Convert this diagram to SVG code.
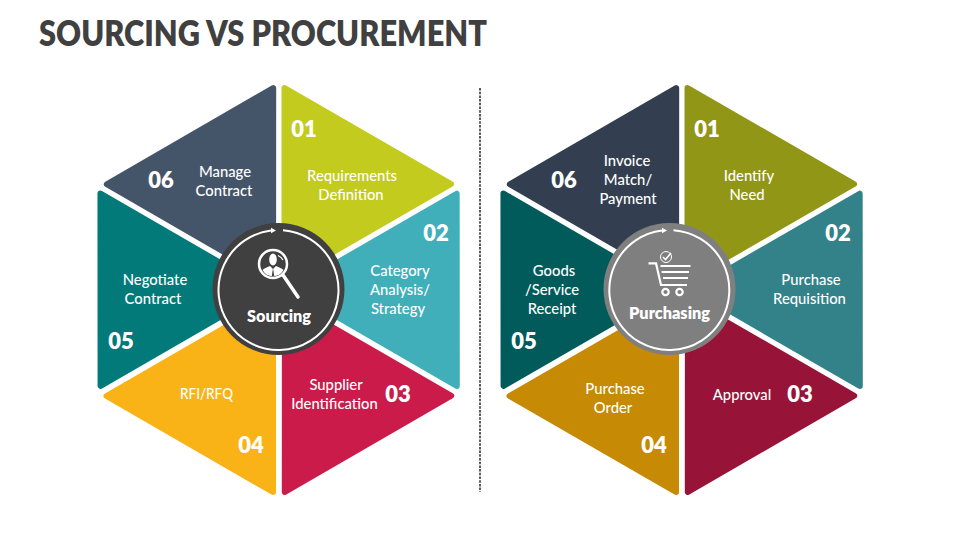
<svg xmlns="http://www.w3.org/2000/svg" width="960" height="540" viewBox="0 0 960 540">
<style>
text{font-family:Lato,"Open Sans","Liberation Sans",sans-serif;fill:#fff;text-anchor:middle}
.t{font-size:14.800px;font-weight:500}
.n{font-size:22px;font-weight:800}
.c{font-size:17px;font-weight:800}
.title{font-size:35.500px;font-weight:800;fill:#404040;text-anchor:start}
.w{stroke-width:6;stroke-linejoin:round}
.ln{fill:none;stroke:#fff;stroke-width:2}
</style>
<defs>
<polygon id="wedge" points="284.500,88 451,184 284.500,280"/>
<path id="tip" d="M0,-2.800L5,0L0,2.800Z" fill="#fff"/>
</defs>
<rect width="960" height="540" fill="#fff"/>
<text class="title" x="39" y="46" textLength="448" lengthAdjust="spacingAndGlyphs">SOURCING VS PROCUREMENT</text>
<g id="connectors"><line x1="480" y1="88" x2="480" y2="492" stroke="#404040" stroke-width="1.700" stroke-dasharray="2.500 1.200"/></g>

<g id="s01"><use href="#wedge" class="w" fill="#C3CB1E" stroke="#C3CB1E"/><text class="n" x="304" y="137">01</text><text class="t" x="352" y="181">Requirements</text><text class="t" x="351" y="200">Definition</text></g>
<g id="s02"><use href="#wedge" class="w" fill="#41AFBA" stroke="#41AFBA" transform="rotate(60 279 290)"/><text class="n" x="436" y="241">02</text><text class="t" x="400" y="276">Category</text><text class="t" x="400" y="295">Analysis/</text><text class="t" x="398" y="314">Strategy</text></g>
<g id="s03"><use href="#wedge" class="w" fill="#CB1B4B" stroke="#CB1B4B" transform="rotate(120 279 290)"/><text class="n" x="398" y="402">03</text><text class="t" x="336" y="390">Supplier</text><text class="t" x="334.500" y="409">Identification</text></g>
<g id="s04"><use href="#wedge" class="w" fill="#FAB317" stroke="#FAB317" transform="rotate(180 278.750 290)"/><text class="n" x="251" y="453">04</text><text class="t" x="206.500" y="399" textLength="53" lengthAdjust="spacingAndGlyphs">RFI/RFQ</text></g>
<g id="s05"><use href="#wedge" class="w" fill="#027A7A" stroke="#027A7A" transform="rotate(240 278.500 290)"/><text class="n" x="121" y="349">05</text><text class="t" x="155" y="285">Negotiate</text><text class="t" x="153" y="304">Contract</text></g>
<g id="s06"><use href="#wedge" class="w" fill="#455569" stroke="#455569" transform="rotate(300 279 290)"/><text class="n" x="161" y="188">06</text><text class="t" x="225" y="177">Manage</text><text class="t" x="224" y="196">Contract</text></g>

<g id="sourcing">
<circle cx="278.500" cy="289" r="66" fill="#404040"/>
<path class="ln" d="M283,230.200A60,60 0 1 1 271,230.500"/>
<use href="#tip" x="271" y="230.500"/>
<circle cx="273" cy="264" r="14" fill="none" stroke="#fff" stroke-width="2.500"/>
<path d="M283,275L298,297" fill="none" stroke="#fff" stroke-width="3.500" stroke-linecap="round"/>
<path d="M278,255.500A10,10 0 0 1 283,260" fill="none" stroke="#fff" stroke-width="1.200"/>
<path d="M262.500,270C264,268 268,267 270,266L273,269L276,266C278,267 282,268 283.500,270A12,12 0 0 1 262.500,270Z" fill="#fff"/>
<ellipse cx="273" cy="259.500" rx="3.800" ry="6" fill="#fff"/>
<path d="M273,268L271.800,276H274.200Z" fill="#404040"/>
<text class="c" x="279" y="322" textLength="64" lengthAdjust="spacingAndGlyphs">Sourcing</text>
</g>

<g id="p01"><use href="#wedge" x="403" class="w" fill="#929617" stroke="#929617"/><text class="n" x="707" y="137">01</text><text class="t" x="749" y="181">Identify</text><text class="t" x="747" y="200">Need</text></g>
<g id="p02"><use href="#wedge" x="403" class="w" fill="#338289" stroke="#338289" transform="rotate(60 682 290)"/><text class="n" x="838" y="241">02</text><text class="t" x="811" y="285">Purchase</text><text class="t" x="809.500" y="304">Requisition</text></g>
<g id="p03"><use href="#wedge" x="403" class="w" fill="#971338" stroke="#971338" transform="rotate(120 682 290)"/><text class="n" x="800" y="402">03</text><text class="t" x="742" y="400">Approval</text></g>
<g id="p04"><use href="#wedge" x="403" class="w" fill="#C68A05" stroke="#C68A05" transform="rotate(180 681.750 290)"/><text class="n" x="654" y="453">04</text><text class="t" x="615" y="394">Purchase</text><text class="t" x="613" y="413">Order</text></g>
<g id="p05"><use href="#wedge" x="403" class="w" fill="#025B5B" stroke="#025B5B" transform="rotate(240 681.500 290)"/><text class="n" x="524" y="349">05</text><text class="t" x="554" y="276">Goods</text><text class="t" x="552" y="295">/Service</text><text class="t" x="552" y="314">Receipt</text></g>
<g id="p06"><use href="#wedge" x="403" class="w" fill="#333F50" stroke="#333F50" transform="rotate(300 682 290)"/><text class="n" x="564" y="188">06</text><text class="t" x="627" y="166">Invoice</text><text class="t" x="628" y="185">Match/</text><text class="t" x="628" y="204">Payment</text></g>

<g id="purchasing">
<circle cx="669.500" cy="289" r="66" fill="#7F7F7F"/>
<path class="ln" d="M673.500,230.200A60,60 0 1 1 662,230.500"/>
<use href="#tip" x="662" y="230.500"/>
<path d="M648.500,263.300H656L661,285H687" fill="none" stroke="#fff" stroke-width="2.200"/>
<path d="M660.500,266H690.500M661.500,272H689M663,278H688" fill="none" stroke="#fff" stroke-width="2.200"/>
<circle cx="665.500" cy="292" r="3.200" fill="none" stroke="#fff" stroke-width="2.200"/>
<circle cx="679.500" cy="292" r="3.200" fill="none" stroke="#fff" stroke-width="2.200"/>
<circle cx="666" cy="257" r="5.500" fill="none" stroke="#fff" stroke-width="1"/>
<path d="M663,257L665.500,259.500L671,253" fill="none" stroke="#fff" stroke-width="1.600"/>
<text class="c" x="669.500" y="319" textLength="81" lengthAdjust="spacingAndGlyphs">Purchasing</text>
</g>
</svg>
